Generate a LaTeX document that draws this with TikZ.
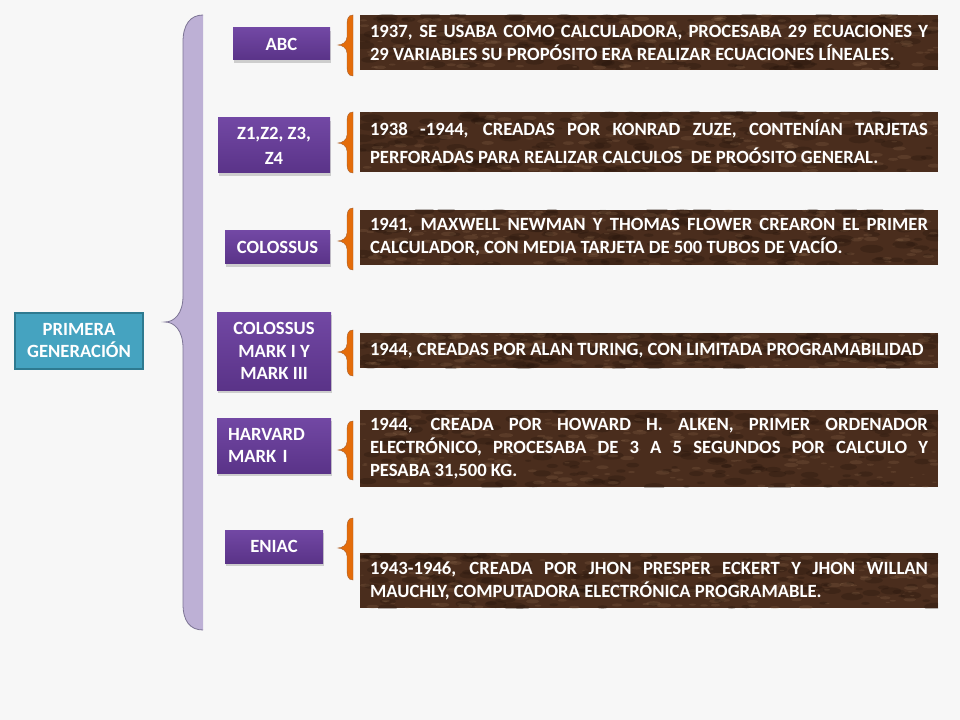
\documentclass[tikz,border=0pt]{standalone}
\usepackage{fontspec}
\setmainfont{Carlito}
\usetikzlibrary{shadows}
\definecolor{bgc}{HTML}{F7F7F7}
\definecolor{pTop}{HTML}{7248A4}
\definecolor{pBot}{HTML}{5A3388}
\definecolor{teal}{HTML}{45A3C0}
\definecolor{tealdark}{HTML}{2E7A90}
\definecolor{lav}{HTML}{BDB0D5}
\definecolor{lavline}{HTML}{7C7494}
\definecolor{orng}{HTML}{E46C0A}
\definecolor{orngline}{HTML}{A8612E}
\definecolor{brownbase}{HTML}{4A2D1D}
\definecolor{browndark}{HTML}{24140B}
\definecolor{brownlight}{HTML}{9A7656}
\newcommand\marblebox[4]{%
  \begin{scope}
    \clip (#1,#2) rectangle (#3,#4);
    \fill[brownbase] (#1,#2) rectangle (#3,#4);
    \foreach \i in {1,...,160}{%
      \pgfmathsetmacro\mx{#1+rnd*(#3-#1)}%
      \pgfmathsetmacro\my{#2+rnd*(#4-#2)}%
      \pgfmathsetmacro\mr{3+rnd*9}%
      \fill[browndark,opacity=0.3] (\mx,\my) ellipse[x radius=\mr, y radius=\mr*0.35];
    }
    \foreach \i in {1,...,200}{%
      \pgfmathsetmacro\mx{#1+rnd*(#3-#1)}%
      \pgfmathsetmacro\my{#2+rnd*(#4-#2)}%
      \pgfmathsetmacro\mr{1.5+rnd*6}%
      \fill[brownlight,opacity=0.2] (\mx,\my) ellipse[x radius=\mr, y radius=\mr*0.3];
    }
  \end{scope}}
\newcommand\orangebrace[3]{%
  \fill[orng,draw=orngline,line width=0.3pt]
    (353,#1) .. controls (348,#1) and (347,{#1+4}) .. (347,{#1+10})
    -- (347,{#2-8}) .. controls (347,{#2-3}) and (342,#2) .. (338,#2)
    .. controls (342,#2) and (347,{#2+3}) .. (347,{#2+8})
    -- (347,{#3-10}) .. controls (347,{#3-4}) and (348,#3) .. (353,#3) -- cycle;}
\tikzset{
  purplebox/.style={rectangle, top color=pTop, bottom color=pBot, draw=none,
    text=white, font=\bfseries\fontsize{14}{17}\selectfont, align=center, inner sep=0pt,
    drop shadow={opacity=0.35, shadow xshift=1pt, shadow yshift=-2pt}},
  descbox/.style={rectangle, draw=none, text=white, inner xsep=7.5pt, inner ysep=0pt,
    text width=418.5pt, align=justify, minimum width=433.5pt,
    font=\bfseries\fontsize{14}{17.25}\selectfont},
  mainbox/.style={rectangle, fill=teal, draw=tealdark, line width=1.2pt, text=white,
    font=\bfseries\fontsize{14}{16.5}\selectfont, align=center, inner sep=0pt}
}
\begin{document}
\begin{tikzpicture}[x=0.75pt,y=-0.75pt]
\pgfmathsetseed{4242}
\fill[bgc] (0,0) rectangle (960,720);
\useasboundingbox (0,0) rectangle (960,720);

% big lavender brace
\fill[lav] (203,15) .. controls (190,15) and (183,25) .. (183,42)
  -- (183,296) .. controls (183,314) and (174,322) .. (165,322)
  .. controls (174,322) and (183,330) .. (183,348)
  -- (183,604) .. controls (183,621) and (190,630) .. (203,630) -- cycle;
\draw[lavline,line width=0.6pt] (203,15) .. controls (190,15) and (183,25) .. (183,42)
  -- (183,296) .. controls (183,314) and (174,322) .. (165,322)
  .. controls (174,322) and (183,330) .. (183,348)
  -- (183,604) .. controls (183,621) and (190,630) .. (203,630);

% main node
\node[mainbox, minimum width=96pt, minimum height=42pt] (main) at (79,341) {PRIMERA\\GENERACIÓN};

% purple boxes
\node[purplebox, minimum width=72.75pt, minimum height=24pt] (abc) at (281.5,44) {ABC};
\node[purplebox, minimum width=84pt, minimum height=41.25pt,
  font=\bfseries\fontsize{14}{18.75}\selectfont] (z) at (274,145.5) {Z1,Z2, Z3,\\Z4};
\node[purplebox, minimum width=78.75pt, minimum height=24.75pt] (col) at (277.5,247.5) {COLOSSUS};
\node[purplebox, minimum width=85.5pt, minimum height=58.5pt] (colm) at (274,351) {COLOSSUS\\MARK I Y\\MARK III};
\node[purplebox, minimum width=85.5pt, minimum height=41.25pt, align=left,
  text width=69pt, inner xsep=8.25pt] (harv) at (274,445.5) {HARVARD\\MARK I};
\node[purplebox, minimum width=73.5pt, minimum height=24.75pt] (eniac) at (274,546.5) {ENIAC};

% orange braces
\orangebrace{15}{45}{76}
\orangebrace{112}{143}{173}
\orangebrace{208}{241}{270}
\orangebrace{330}{352}{376}
\orangebrace{421}{450}{480}
\orangebrace{518}{548}{580}

% brown description boxes
\marblebox{360}{15}{938}{70}
\marblebox{360}{112}{938}{172}
\marblebox{360}{210}{938}{265}
\marblebox{360}{333}{938}{368}
\marblebox{360}{410}{938}{487}
\marblebox{360}{553}{938}{608}

\node[descbox, minimum height=41.25pt] (d1) at (649,42.5)
  {1937, SE USABA COMO CALCULADORA, PROCESABA 29 ECUACIONES Y\linebreak 29 VARIABLES SU PROPÓSITO ERA REALIZAR ECUACIONES LÍNEALES.};
\node[descbox, minimum height=45pt, font=\bfseries\fontsize{14}{21}\selectfont] (d2) at (649,142)
  {1938 -1944, CREADAS POR KONRAD ZUZE, CONTENÍAN TARJETAS\linebreak PERFORADAS PARA REALIZAR CALCULOS \ DE PROÓSITO GENERAL.};
\node[descbox, minimum height=41.25pt] (d3) at (649,237.5)
  {1941, MAXWELL NEWMAN Y THOMAS FLOWER CREARON EL PRIMER\linebreak CALCULADOR, CON MEDIA TARJETA DE 500 TUBOS DE VACÍO.};
\node[descbox, minimum height=26.25pt] (d4) at (649,350.5)
  {1944, CREADAS POR ALAN TURING, CON LIMITADA PROGRAMABILIDAD};
\node[descbox, minimum height=57.75pt] (d5) at (649,448.5)
  {1944, CREADA POR HOWARD H. ALKEN, PRIMER ORDENADOR\linebreak ELECTRÓNICO, PROCESABA DE 3 A 5 SEGUNDOS POR CALCULO Y\linebreak PESABA 31,500 KG.};
\node[descbox, minimum height=41.25pt] (d6) at (649,580.5)
  {1943-1946, CREADA POR JHON PRESPER ECKERT Y JHON WILLAN\linebreak MAUCHLY, COMPUTADORA ELECTRÓNICA PROGRAMABLE.};
\end{tikzpicture}
\end{document}
